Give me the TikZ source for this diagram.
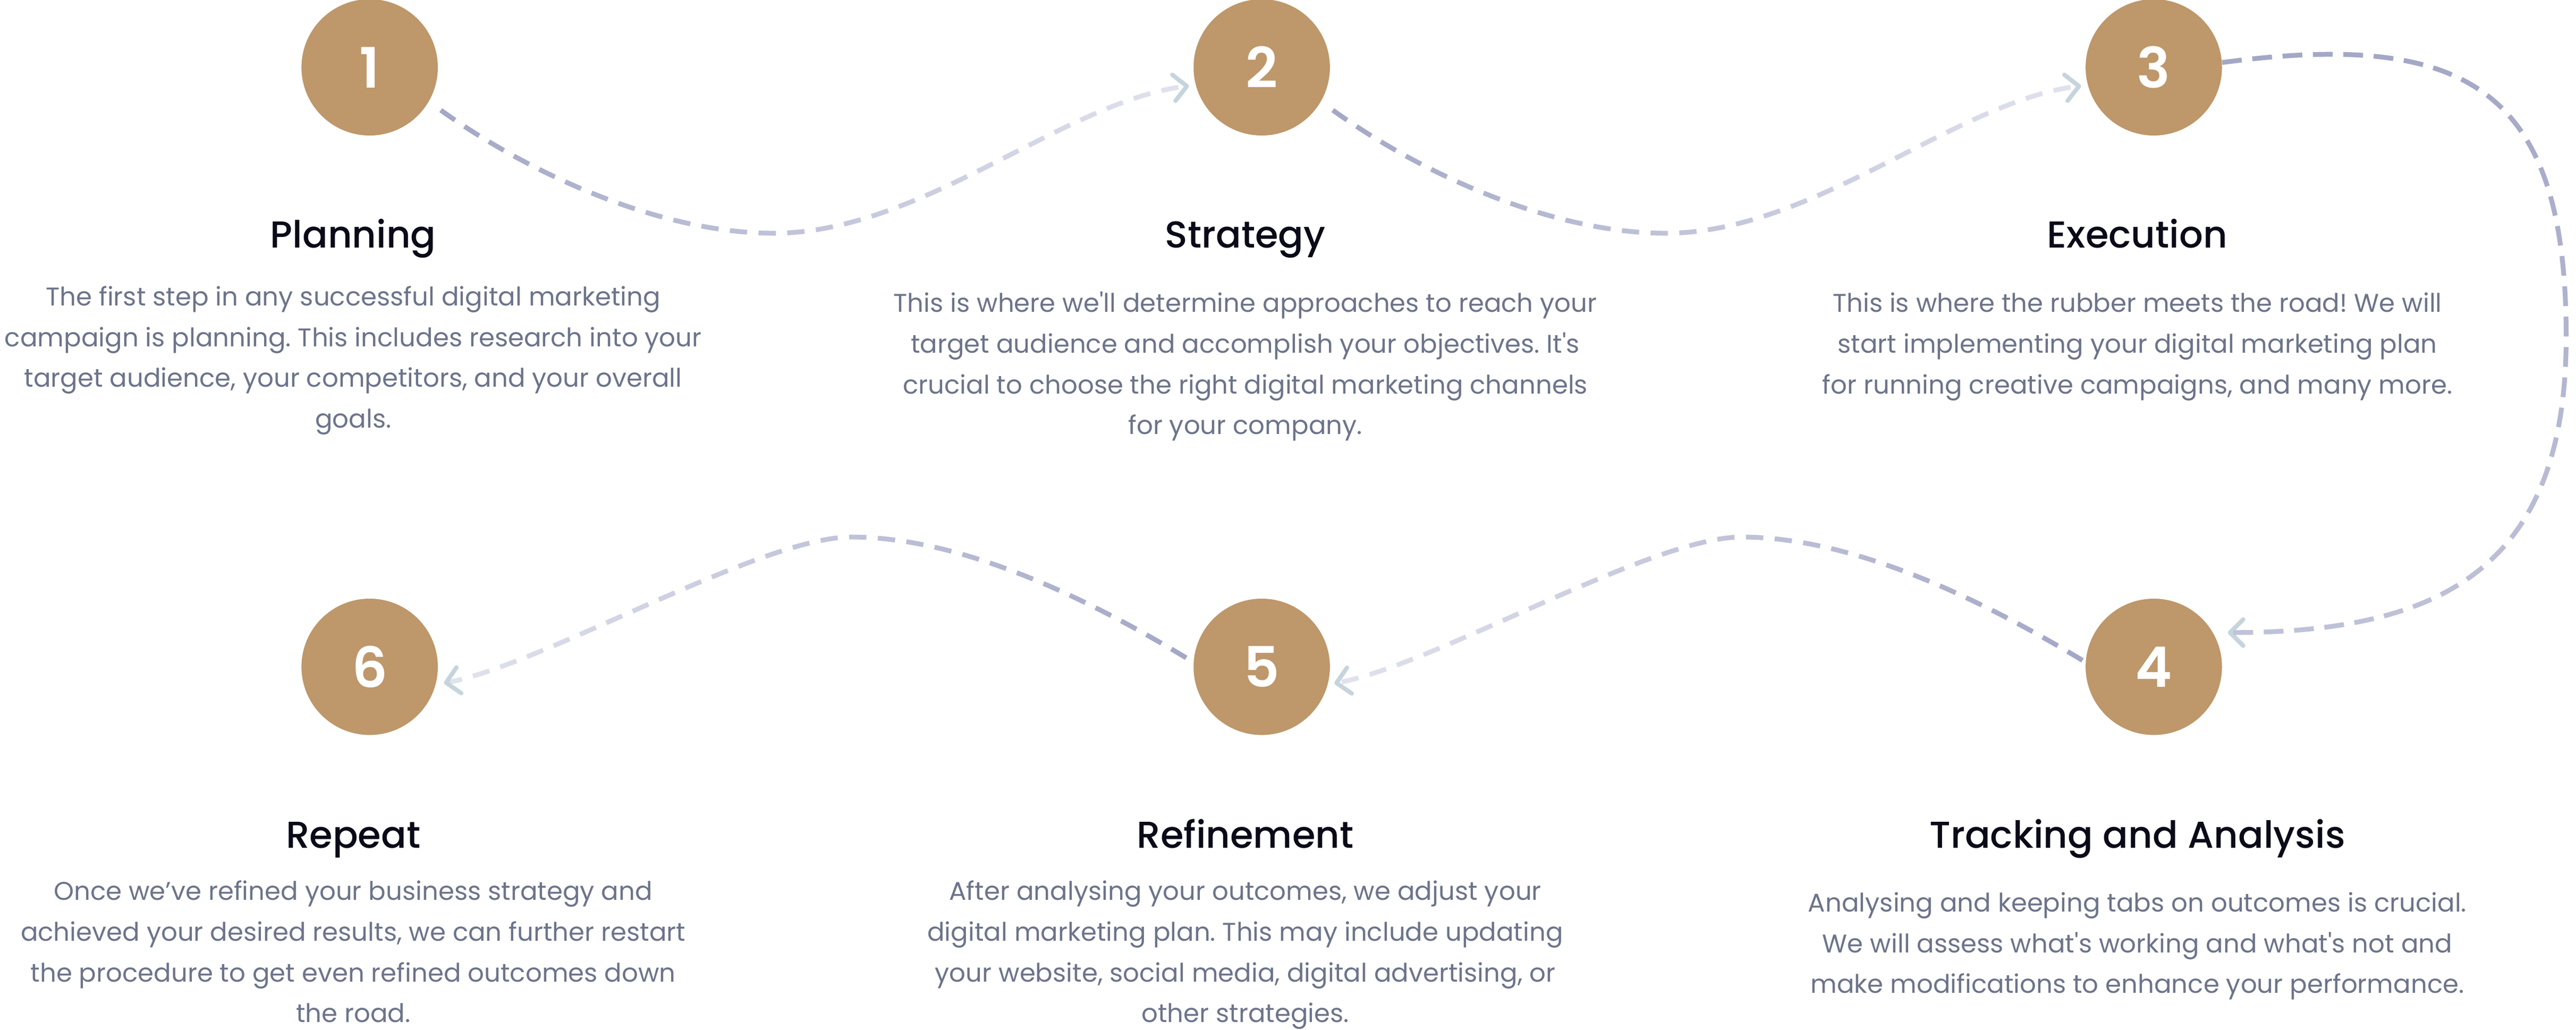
\documentclass[tikz,border=0pt]{standalone}
\usepackage{fontspec}
\setmainfont{Poppins}
\IfFontExistsTF{Poppins Medium}{\newfontfamily\titlefont{Poppins Medium}}{\newfontfamily\titlefont{Poppins}}
\IfFontExistsTF{Poppins SemiBold}{\newfontfamily\numfont{Poppins SemiBold}}{\newfontfamily\numfont{Poppins}[FakeBold=2]}
\usepackage{tikz}
\usetikzlibrary{arrows.meta, fadings}
\frenchspacing

\definecolor{gold}{RGB}{190,151,106}
\definecolor{dashdark}{RGB}{163,167,198}
\definecolor{dashlight}{RGB}{226,228,239}
\definecolor{tipgray}{RGB}{198,212,221}
\definecolor{bodygray}{RGB}{108,116,138}
\definecolor{headblack}{RGB}{10,10,24}

\tikzfading[name=fadeE, left color=transparent!0, middle color=transparent!10, right color=transparent!100]
\tikzfading[name=fadeW, left color=transparent!100, middle color=transparent!10, right color=transparent!0]
\tikzfading[name=fadeS, top color=transparent!0, bottom color=transparent!45]

\begin{document}
\begin{tikzpicture}[x=1pt, y=-1pt,
    stepdot/.style={circle, fill=gold, minimum size=83pt, inner sep=0pt, text=white,
        font=\numfont\fontsize{34}{34}\selectfont},
    head/.style={anchor=base, inner sep=0pt, text=headblack,
        font=\titlefont\fontsize{22.8}{22.8}\selectfont},
    body/.style={anchor=north, align=center, inner sep=0pt, text=bodygray,
        font=\fontsize{15.6}{24.8}\selectfont},
    link/.style={line width=2.9pt, dash pattern=on 10.5pt off 7pt,
        -{Straight Barb[length=8pt, width=16pt, line width=2.6pt, round, color=tipgray]}},
    lighter/.style={draw=dashlight},
    darker/.style={draw=dashdark, fit fading=true, path fading=#1}]
    \useasboundingbox (0,0) rectangle (1568,627);

    % 番号の円
    \node[stepdot] (c1) at (225,41) {1};
    \node[stepdot] (c2) at (768,41) {2};
    \node[stepdot] (c3) at (1311,41) {3};
    \node[stepdot] (c4) at (1311,406) {4};
    \node[stepdot] (c5) at (768,406) {5};
    \node[stepdot] (c6) at (225,406) {6};

    % 見出し
    \node[head] (t1) at (215,151) {Planning};
    \node[head] (t2) at (758,151) {Strategy};
    \node[head] (t3) at (1301,151) {Execution};
    \node[head] (t4) at (1301,516.4) {Tracking and Analysis};
    \node[head] (t5) at (758,516.4) {Refinement};
    \node[head] (t6) at (215,516.4) {Repeat};

    % 説明文
    \node[body] (b1) at (215,168.6) {\strut The first step in any successful digital marketing\\
        campaign is planning. This includes research into your\\
        target audience, your competitors, and your overall\\ goals.};
    \node[body] (b2) at (758,172.6) {\strut This is where we\textquotesingle ll determine approaches to reach your\\
        target audience and accomplish your objectives. It\textquotesingle s\\
        crucial to choose the right digital marketing channels\\ for your company.};
    \node[body] (b3) at (1301,172.6) {\strut This is where the rubber meets the road! We will\\
        start implementing your digital marketing plan\\
        for running creative campaigns, and many more.};
    \node[body] (b4) at (1301,537.6) {\strut Analysing and keeping tabs on outcomes is crucial.\\
        We will assess what\textquotesingle s working and what\textquotesingle s not and\\
        make modifications to enhance your performance.};
    \node[body] (b5) at (758,530.6) {\strut After analysing your outcomes, we adjust your\\
        digital marketing plan. This may include updating\\
        your website, social media, digital advertising, or\\ other strategies.};
    \node[body] (b6) at (215,530.6) {\strut Once we’ve refined your business strategy and\\
        achieved your desired results, we can further restart\\
        the procedure to get even refined outcomes down\\ the road.};

    % 曲線の経由点
    \coordinate (dip12) at (471,142);
    \coordinate (dip23) at (1014,142);
    \coordinate (bend34) at (1562,205);
    \coordinate (top45) at (1060,327);
    \coordinate (top56) at (518,327);

    % 破線の矢印 (薄い下地 + 濃い色のフェード)
    \foreach \layer/\fd in {lighter/fadeE, darker/fadeE} {
        \draw[link, \layer=\fd, shorten <=9pt, shorten >=4pt] (c1.-30)
            .. controls +(60,43) and +(-70,0) .. (dip12)
            .. controls +(90,0) and +(-80,10) .. (c2.195);
        \draw[link, \layer=\fd, shorten <=9pt, shorten >=4pt] (c2.-30)
            .. controls +(60,43) and +(-70,0) .. (dip23)
            .. controls +(90,0) and +(-80,10) .. (c3.195);
    }
    \foreach \layer/\fd in {lighter/fadeS, darker/fadeS} {
        \draw[link, \layer=\fd, dash pattern=on 12pt off 6.5pt, shorten >=9pt] (c3.4)
            .. controls +(150,-20) and +(0,-150) .. (bend34)
            .. controls +(0,140) and +(140,0) .. (c4.30);
    }
    \foreach \layer/\fd in {lighter/fadeW, darker/fadeW} {
        \draw[link, \layer=\fd, shorten <=2pt, shorten >=4pt] (c4.176)
            .. controls +(-60,-36) and +(70,0) .. (top45)
            .. controls +(-55,0) and +(65,-12) .. (c5.-15);
        \draw[link, \layer=\fd, shorten <=5pt, shorten >=5pt] (c5.176)
            .. controls +(-60,-36) and +(70,0) .. (top56)
            .. controls +(-55,0) and +(65,-12) .. (c6.-15);
    }
\end{tikzpicture}
\end{document}
